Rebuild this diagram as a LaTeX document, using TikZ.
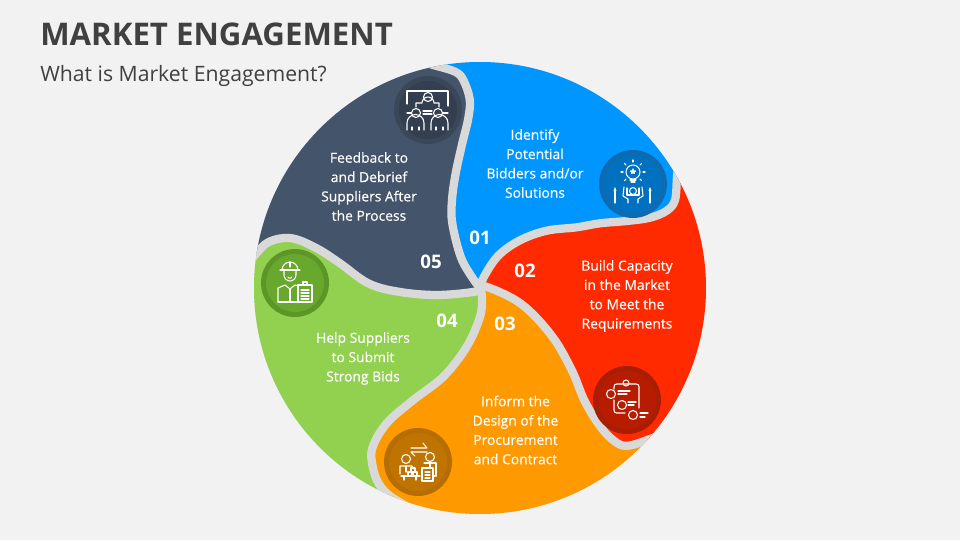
\documentclass[tikz,border=0pt]{standalone}
\usepackage{fontspec}
\setmainfont{Open Sans}
\newfontfamily\labelfont[FakeBold=0.4]{Open Sans}
\usetikzlibrary{positioning,arrows.meta}
\definecolor{pagebg}{HTML}{F2F2F2}
\definecolor{discgrey}{HTML}{D9D9D9}
\definecolor{titlegrey}{HTML}{404040}
\definecolor{bladeblue}{HTML}{0096FF}
\definecolor{bladered}{HTML}{FF2A00}
\definecolor{bladeorange}{HTML}{FF9900}
\definecolor{bladegreen}{HTML}{92D050}
\definecolor{bladeslate}{HTML}{44546A}
\definecolor{ringblue}{HTML}{0E6BB2}
\definecolor{ringred}{HTML}{A81E04}
\definecolor{ringorange}{HTML}{B56D04}
\definecolor{ringgreen}{HTML}{5C9628}
\definecolor{ringslate}{HTML}{3A4759}
\definecolor{coreblue}{HTML}{0070C0}
\definecolor{corered}{HTML}{B81C00}
\definecolor{coreorange}{HTML}{C07400}
\definecolor{coregreen}{HTML}{68A82C}
\definecolor{coreslate}{HTML}{333F50}
\tikzstyle{spine}=[draw=discgrey, line width=6.2pt, line join=round]
\tikzstyle{icon}=[draw=white, line width=.8pt, line cap=round, line join=round]
\tikzstyle{label}=[text=white, align=center, font=\labelfont\fontsize{10.4}{14.5}\selectfont, inner sep=0pt]
\tikzstyle{num}=[text=white, font=\fontsize{14}{16}\selectfont\bfseries, inner sep=0pt]
\begin{document}
\begin{tikzpicture}[x=0.75pt,y=0.75pt]
\useasboundingbox (-480,-252) rectangle (480,288);
\fill[pagebg] (-480,-252) rectangle (480,288);
\node[anchor=west, inner sep=0pt, text=titlegrey, font=\fontsize{23.4}{30}\selectfont\bfseries] (title) at (-440,254) {MARKET ENGAGEMENT};
\node[anchor=west, inner sep=0pt, text=titlegrey, font=\fontsize{15.9}{18}\selectfont] (subtitle) at (-440,212) {What is Market Engagement?};
% disc and blades
\begin{scope}
\clip (0,0) circle[radius=226];
\fill[discgrey] (-230,-230) rectangle (230,230);
\fill[bladeblue] plot[smooth, tension=.6] coordinates {(0,0) (-8.3,11.3) (-19.3,31.3) (-27.7,64.7) (-28,88) (-24.3,114.7) (-17.7,144.7) (-11.7,169.7) (-10.3,188.7) (-16.7,208) (-25,216.3) (-45,222.5) (-65,228)}
  -- (-65,300) -- (300,300) -- (300,140) -- (199,130)
  -- plot[smooth, tension=.6] coordinates {(199,130) (197,111) (195,88) (186.7,77.3) (170,70.3) (146.7,67) (120,64.7) (96.7,60.7) (66.7,57.3) (40,47.7) (18.3,32.3) (4,11.3) (0,0)} -- cycle;
\fill[bladered] plot[smooth, tension=.6] coordinates {(0,0) (4,11.3) (18.3,32.3) (40,47.7) (66.7,57.3) (96.7,60.7) (120,64.7) (146.7,67) (170,70.3) (186.7,77.3) (195,88) (197,111) (199,130)}
  -- (300,140) -- (300,-145) -- (185,-145)
  -- plot[smooth, tension=.6] coordinates {(185,-145) (167.3,-152) (148.3,-157.7) (136.7,-154.7) (121.7,-140.3) (105,-113.7) (91.7,-82) (71.7,-47.7) (41.7,-16.3) (8.3,0.7) (0,0)} -- cycle;
\fill[bladeorange] plot[smooth, tension=.6] coordinates {(0,0) (8.3,0.7) (41.7,-16.3) (71.7,-47.7) (91.7,-82) (105,-113.7) (121.7,-140.3) (136.7,-154.7) (148.3,-157.7) (167.3,-152) (185,-145)}
  -- (185,-300) -- (-70,-300) -- (-70,-220)
  -- plot[smooth, tension=.6] coordinates {(-70,-220) (-90,-208) (-101,-196) (-107,-180) (-107.7,-160.3) (-93.3,-135.3) (-66.7,-112) (-36.7,-88.7) (-13.3,-58.7) (0,-28.7) (2,-8.7) (0,0)} -- cycle;
\fill[bladegreen] plot[smooth, tension=.6] coordinates {(0,0) (2,-8.7) (0,-28.7) (-13.3,-58.7) (-36.7,-88.7) (-66.7,-112) (-93.3,-135.3) (-107.7,-160.3) (-107,-180) (-101,-196) (-90,-208) (-70,-220)}
  -- (-70,-300) -- (-300,-300) -- (-300,18) -- (-236,18)
  -- plot[smooth, tension=.6] coordinates {(-236,18) (-225,33) (-210.7,46.3) (-188.3,49.7) (-163.3,39.7) (-140,24.7) (-111.7,4.7) (-81.7,-3.7) (-43.3,-7) (-5,-3.7) (0,0)} -- cycle;
\fill[bladeslate] plot[smooth, tension=.6] coordinates {(0,0) (-5,-3.7) (-43.3,-7) (-81.7,-3.7) (-111.7,4.7) (-140,24.7) (-163.3,39.7) (-188.3,49.7) (-210.7,46.3) (-225,33) (-236,18)}
  -- (-300,18) -- (-300,300) -- (-65,300) -- (-65,228)
  -- plot[smooth, tension=.6] coordinates {(-65,228) (-45,222.5) (-25,216.3) (-16.7,208) (-10.3,188.7) (-11.7,169.7) (-17.7,144.7) (-24.3,114.7) (-28,88) (-27.7,64.7) (-19.3,31.3) (-8.3,11.3) (0,0)} -- cycle;
% grey bands between the blades
\draw[spine] plot[smooth, tension=.6] coordinates {(0,0) (4,11.3) (18.3,32.3) (40,47.7) (66.7,57.3) (96.7,60.7) (120,64.7) (146.7,67) (170,70.3) (186.7,77.3) (195,88) (197,111) (199,130)};
\draw[spine] plot[smooth, tension=.6] coordinates {(0,0) (8.3,0.7) (41.7,-16.3) (71.7,-47.7) (91.7,-82) (105,-113.7) (121.7,-140.3) (136.7,-154.7) (148.3,-157.7) (167.3,-152) (185,-145)};
\draw[spine] plot[smooth, tension=.6] coordinates {(0,0) (2,-8.7) (0,-28.7) (-13.3,-58.7) (-36.7,-88.7) (-66.7,-112) (-93.3,-135.3) (-107.7,-160.3) (-107,-180) (-101,-196) (-90,-208) (-70,-220)};
\draw[spine] plot[smooth, tension=.6] coordinates {(0,0) (-5,-3.7) (-43.3,-7) (-81.7,-3.7) (-111.7,4.7) (-140,24.7) (-163.3,39.7) (-188.3,49.7) (-210.7,46.3) (-225,33) (-236,18)};
\draw[spine] plot[smooth, tension=.6] coordinates {(0,0) (-8.3,11.3) (-19.3,31.3) (-27.7,64.7) (-28,88) (-24.3,114.7) (-17.7,144.7) (-11.7,169.7) (-10.3,188.7) (-16.7,208) (-25,216.3) (-45,222.5) (-65,228)};
\end{scope}
% badges
\foreach \px/\py/\col in {153/104/blue,147/-112/red,-62/-174/orange,-185/5/green,-52/178/slate}{
  \fill[ring\col] (\px,\py) circle[radius=34];
  \fill[core\col] (\px,\py) circle[radius=29];
}
% icon 01
\begin{scope}[shift={(153,104)}, icon]
\draw (0,12) circle[radius=7];
\draw (-1.5,10.5) -- (0,15) -- (1.5,10.5) -- (-2.5,13) -- (2.5,13) -- cycle;
\draw (-3,4) -- (3,4) (-2,2) -- (2,2);
\foreach \a in {0,45,90,135,180,225,315} \draw (0,12) ++(\a:10) -- ++(\a:2);
\draw[-{Stealth[length=3pt]}] (-18,-19) -- (-18,-3);
\draw[-{Stealth[length=3pt]}] (17,-19) -- (17,-3);
\draw (0,-7) circle[radius=3.5];
\draw (-9,-3) -- (-10,-12) -- (-5,-15) -- (-5,-19);
\draw (9,-3) -- (10,-12) -- (5,-15) -- (5,-19);
\draw (-6,-4) -- (-6,-11) -- (6,-11) -- (6,-4);
\end{scope}
% icon 02
\begin{scope}[shift={(147,-112)}, icon]
\draw[rounded corners=2pt] (-2,-13) -- (-13,-13) -- (-13,0);
\draw[rounded corners=2pt] (-13,11) -- (-13,16) -- (12,16) -- (12,-8);
\draw (-1,17) circle[radius=3];
\draw (-16,6) circle[radius=4.5];
\draw (-5,-5) circle[radius=4.5];
\draw (6,-15) circle[radius=4.5];
\draw (-9,9) -- (3,9) (-9,6) -- (0,6);
\draw (1,-2) -- (9,-2) (1,-5) -- (7,-5);
\draw (13,-13) -- (21,-13) (13,-17) -- (18,-17);
\end{scope}
% icon 03
\begin{scope}[shift={(-62,-174)}, icon]
\draw (-7,14) -- (9,14) -- (5,19) (9,10) -- (-7,10) -- (-3,6);
\draw (-12,3) circle[radius=4.5];
\draw (12,5) circle[radius=4.5];
\draw (-18,-12) -- (-18,-4) -- (-6,-4) -- (-3,-8);
\draw (-12,-4) -- (-12,-10);
\draw (6,-1) -- (18,-1) -- (18,-14) -- (15,-14);
\draw (12,-1) -- (12,-6);
\draw (4,-6) rectangle (15,-19);
\draw (7,-10) -- (12,-10) (7,-13) -- (12,-13) (7,-16) -- (12,-16);
\draw (-17,-14) -- (2,-14) (-14,-14) -- (-14,-18) (-2,-14) -- (-2,-18);
\draw (-10,-14) rectangle (-6,-10) (-5,-14) rectangle (-1,-10) (-7,-10) rectangle (-3,-6);
\end{scope}
% icon 04
\begin{scope}[shift={(-185,5)}, icon]
\draw (-13,13) arc[start angle=180, end angle=0, radius=8] -- cycle;
\draw (-15,13) -- (5,13);
\draw (-5,21) -- (-5,16);
\draw (-11,13) -- (-11,8) arc[start angle=180, end angle=360, radius=6] -- (1,13);
\draw (-7,6) arc[start angle=200, end angle=340, radius=2];
\draw (-17,-19) -- (-17,-5) -- (-10,-2) -- (-5,-6) -- (0,-2) -- (3,-3);
\draw (-17,-19) -- (3,-19);
\draw (-5,-6) -- (-5,-19);
\draw (3,-19) rectangle (17,-2);
\draw (8,-2) -- (8,1) -- (12,1) -- (12,-2);
\draw (6,-7) -- (14,-7) (6,-10) -- (14,-10) (6,-13) -- (14,-13) (6,-16) -- (14,-16);
\end{scope}
% icon 05
\begin{scope}[shift={(-52,178)}, icon]
\draw (-21,6) -- (-21,19) -- (20,19) -- (20,4);
\draw (0,13) circle[radius=4.5];
\draw (-12,3) -- (-12,7) -- (-6,7) arc[start angle=180, end angle=0, radius=6] -- (11,7) -- (11,3);
\draw (-12,-3) circle[radius=4.5];
\draw (10,-3) circle[radius=4.5];
\draw (-5,-4) -- (4,-4) (-5,-1) -- (4,-1);
\draw (-21,-20) -- (-21,-13) arc[start angle=180, end angle=0, radius=8.5] -- (-4,-20);
\draw (3,-20) -- (3,-13) arc[start angle=180, end angle=0, radius=8.5] -- (20,-20);
\draw (-16,-20) -- (-16,-17) (-9,-20) -- (-9,-17) (8,-20) -- (8,-17) (15,-20) -- (15,-17);
\draw (-21,-3) -- (-17,-3) (15,-3) -- (20,-3);
\end{scope}
% labels
\node[label] (txtone) at (55,124.5) {Identify\\Potential\\Bidders and/or\\Solutions};
\node[label] (txttwo) at (147,-8) {Build Capacity\\in the Market\\to Meet the\\Requirements};
\node[label] (txtthree) at (35.5,-142) {Inform the\\Design of the\\Procurement\\and Contract};
\node[label] (txtfour) at (-117,-70.5) {Help Suppliers\\to Submit\\Strong Bids};
\node[label] (txtfive) at (-111,101.5) {Feedback to\\and Debrief\\Suppliers After\\the Process};
\node[num] (numone) at (0,50) {01};
\node[num] (numtwo) at (45,17) {02};
\node[num] (numthree) at (25,-36) {03};
\node[num] (numfour) at (-33,-33) {04};
\node[num] (numfive) at (-49,26) {05};
\end{tikzpicture}
\end{document}
